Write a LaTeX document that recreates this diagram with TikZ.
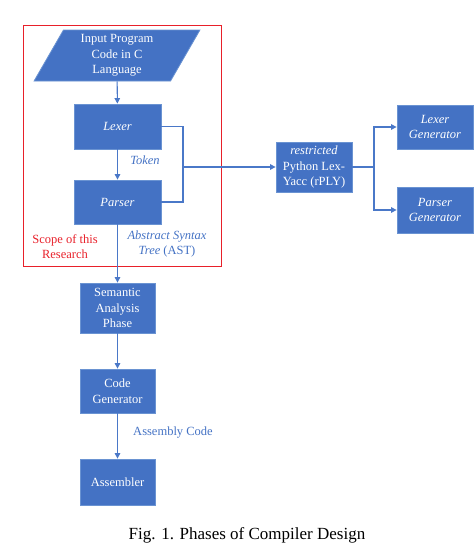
\documentclass[tikz,border=0pt]{standalone}
\usepackage{fontspec}
\setmainfont{Liberation Serif}
\usetikzlibrary{arrows.meta,positioning,shapes.geometric}
\definecolor{boxblue}{HTML}{4472C4}
\definecolor{edgeblue}{HTML}{6A93D2}
\definecolor{lineblue}{HTML}{4A78C8}
\definecolor{scopered}{HTML}{E8202A}
\tikzset{%
	phase/.style    = {draw=edgeblue, fill=boxblue, line width=0.8pt, rectangle, text=white, align=center, inner sep=1pt, font=\fontsize{12.5}{15.5}\selectfont},
	inout/.style    = {draw=edgeblue, fill=boxblue, line width=0.8pt, trapezium, trapezium left angle=65, trapezium right angle=115, trapezium stretches=true, text=white, align=center, inner sep=1pt, font=\fontsize{12.5}{15.5}\selectfont},
	tag/.style      = {text=boxblue, align=center, inner sep=0pt, font=\fontsize{12.5}{15}\selectfont},
	arrow/.style    = {lineblue, line width=1.05pt, -{Triangle[length=5.5pt,width=5.5pt]}},
	link/.style     = {lineblue, line width=1.05pt},
	waypoint/.style = {coordinate},
}
\begin{document}
\begin{tikzpicture}[x=1pt,y=-1pt]
	\useasboundingbox (0,0) rectangle (474,546);
	% scope of this research
	\draw[scopered, line width=0.8pt] (23,25) rectangle (221,266);
	\node [tag, text=scopered] (scope) at (65,247) {Scope of this\\Research};

	\node [inout, minimum width=166pt, minimum height=51pt] (code) at (117,55.5) {Input Program\\Code in C\\Language};
	\node [phase, minimum width=87pt, minimum height=45pt] (lexer) at (117.5,126.5) {\itshape Lexer};
	\node [phase, minimum width=87pt, minimum height=44pt] (parser) at (117.5,202) {\itshape Parser};
	\node [waypoint] (join) at (183,167) {};

	\node [phase, minimum width=76pt, minimum height=50pt] (rply) at (314,167) {\textit{restricted}\\Python Lex-\\Yacc (rPLY)};
	\node [waypoint] (fork) at (374,167) {};
	\node [phase, minimum width=76pt, minimum height=44pt] (lexgen) at (435,127) {\itshape Lexer\\\itshape Generator};
	\node [phase, minimum width=76pt, minimum height=46pt] (pargen) at (435,210) {\itshape Parser\\\itshape Generator};

	\node [phase, minimum width=75pt, minimum height=50pt] (sem) at (117.5,308) {Semantic\\Analysis\\Phase};
	\node [phase, minimum width=75pt, minimum height=44pt] (codegen) at (117.5,391) {Code\\Generator};
	\node [phase, minimum width=75pt, minimum height=46pt] (asm) at (117.5,482) {Assembler};

	\node [tag] (token) at (145,160) {\itshape Token};
	\node [tag] (ast) at (167,243.5) {\textit{Abstract Syntax}\\\textit{Tree} (AST)};
	\node [tag] (asmcode) at (173,433) {Assembly Code};

	\draw[arrow] (code) -- (lexer);
	\draw[arrow] (lexer) -- (parser);
	\draw[link] (lexer.east) -| (join) |- (parser.east);
	\draw[arrow] (join) -- (rply.west);
	\draw[link] (rply.east) -- (fork);
	\draw[arrow] (fork) |- (lexgen.west);
	\draw[arrow] (fork) |- (pargen.west);
	\draw[arrow] (parser) -- (sem);
	\draw[arrow] (sem) -- (codegen);
	\draw[arrow] (codegen) -- (asm);

	\node [inner sep=0pt, font=\fontsize{17}{20}\selectfont] (caption) at (247,535) {Fig. 1. Phases of Compiler Design};
\end{tikzpicture}
\end{document}
